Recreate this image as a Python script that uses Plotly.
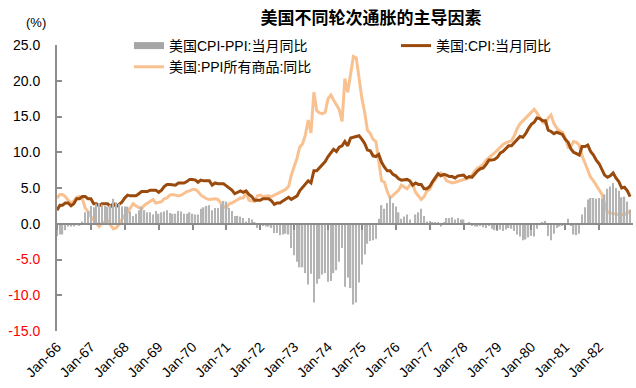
import plotly.graph_objects as go
import pandas as pd

# ---------------- data ----------------
months = pd.date_range("1966-01-01", "1982-12-01", freq="MS")

cpi_yoy = [
    1.9, 2.6, 2.6, 2.9, 2.9, 2.5, 2.8, 3.5, 3.5, 3.8, 3.8, 3.5,   # 1966
    3.5, 2.8, 2.8, 2.5, 2.8, 2.8, 2.8, 2.4, 2.8, 2.4, 2.7, 3.0,   # 1967
    3.6, 4.0, 3.9, 3.9, 3.9, 4.2, 4.5, 4.5, 4.5, 4.7, 4.7, 4.7,   # 1968
    4.4, 4.7, 5.2, 5.5, 5.5, 5.5, 5.4, 5.7, 5.7, 5.7, 5.9, 6.2,   # 1969
    6.2, 6.1, 5.8, 6.1, 6.0, 6.0, 6.0, 5.4, 5.7, 5.6, 5.6, 5.6,   # 1970
    5.3, 5.0, 4.7, 4.2, 4.4, 4.6, 4.4, 4.6, 4.1, 3.8, 3.3, 3.3,   # 1971
    3.3, 3.5, 3.5, 3.5, 3.2, 2.7, 2.9, 2.9, 3.2, 3.4, 3.7, 3.4,   # 1972
    3.6, 3.9, 4.6, 5.1, 5.5, 6.0, 5.7, 7.4, 7.4, 7.8, 8.3, 8.7,   # 1973
    9.4, 10.0, 10.4, 10.1, 10.7, 10.9, 11.5, 10.9, 12.0, 12.1, 12.2, 12.3,  # 1974
    11.8, 11.2, 10.3, 10.2, 9.5, 9.4, 9.7, 8.6, 7.9, 7.4, 7.4, 6.9,  # 1975
    6.7, 6.3, 6.1, 6.1, 6.2, 6.0, 5.4, 5.7, 5.5, 5.5, 4.9, 4.9,   # 1976
    5.2, 5.9, 6.4, 7.0, 6.7, 6.9, 6.8, 6.6, 6.6, 6.4, 6.7, 6.7,   # 1977
    6.8, 6.4, 6.6, 6.5, 7.0, 7.4, 7.7, 7.8, 8.3, 8.9, 8.9, 9.0,   # 1978
    9.3, 9.9, 10.1, 10.5, 10.9, 10.9, 11.3, 11.8, 12.2, 12.1, 12.6, 13.3,  # 1979
    13.9, 14.2, 14.8, 14.7, 14.4, 14.4, 13.1, 12.9, 12.6, 12.8, 12.6, 12.5,  # 1980
    11.8, 11.4, 10.5, 10.0, 9.8, 9.6, 10.8, 10.8, 11.0, 10.1, 9.6, 8.9,  # 1981
    8.4, 7.6, 6.8, 6.5, 6.7, 7.1, 6.4, 5.9, 5.0, 5.1, 4.6, 3.8,   # 1982
]

ppi_yoy = [
    3.6, 4.1, 4.1, 3.8, 3.3, 2.9, 3.2, 3.7, 3.8, 3.5, 2.2, 1.7,   # 1966
    1.0, 0.5, 0.0, -0.4, 0.1, 0.3, 0.4, -0.2, -0.7, -0.6, -0.1, 0.6,  # 1967
    1.2, 1.6, 2.2, 2.8, 2.5, 2.3, 2.1, 2.6, 2.9, 3.1, 3.4, 2.9,   # 1968
    3.0, 3.1, 3.5, 3.6, 4.0, 4.1, 4.0, 3.9, 4.0, 4.3, 4.5, 4.6,   # 1969
    4.8, 4.8, 4.5, 4.0, 3.7, 3.5, 3.4, 3.5, 3.5, 3.4, 2.9, 2.4,   # 1970
    2.2, 2.8, 2.9, 3.1, 3.3, 3.6, 3.6, 4.3, 3.3, 3.2, 3.1, 3.9,   # 1971
    4.0, 3.8, 3.9, 3.9, 3.8, 4.0, 4.2, 4.5, 4.7, 4.8, 5.2, 6.8,   # 1972
    8.0, 9.2, 10.7, 11.2, 12.4, 14.5, 12.7, 18.4, 15.8, 15.5, 15.4, 15.6,  # 1973
    17.5, 18.0, 17.3, 16.6, 16.0, 14.3, 20.3, 18.4, 21.0, 23.4, 23.2, 20.5,  # 1974
    17.5, 15.5, 13.1, 12.6, 11.8, 11.5, 9.0, 6.0, 5.8, 4.5, 3.6, 4.0,  # 1975
    4.3, 4.7, 5.4, 5.1, 4.9, 5.4, 5.5, 4.4, 3.9, 3.4, 3.8, 4.6,   # 1976
    4.8, 5.7, 6.2, 6.8, 7.1, 6.7, 6.0, 5.8, 5.7, 5.8, 5.9, 6.1,   # 1977
    6.2, 6.3, 6.4, 6.8, 7.4, 7.8, 8.0, 8.3, 8.9, 9.2, 9.6, 9.9,   # 1978
    10.3, 10.7, 11.1, 11.3, 11.5, 11.6, 12.3, 13.3, 14.0, 14.4, 14.8, 15.2,  # 1979
    15.6, 16.0, 15.5, 14.9, 14.2, 14.0, 14.8, 15.2, 14.0, 13.4, 13.0, 12.8,  # 1980
    12.0, 10.7, 10.8, 11.5, 11.4, 11.0, 9.5, 8.5, 7.6, 6.5, 6.0, 5.4,  # 1981
    4.8, 4.1, 2.7, 1.6, 1.5, 1.4, 1.4, 1.3, 1.3, 1.3, 1.5, 1.8,   # 1982
]

cpi_ppi_spread = [
    -1.7, -1.5, -1.5, -0.9, -0.4, -0.4, -0.4, -0.2, -0.3, 0.3, 1.6, 1.8,  # 1966
    2.5, 2.3, 2.8, 2.9, 2.7, 2.5, 2.4, 2.6, 3.5, 3.0, 2.8, 2.4,   # 1967
    2.4, 2.4, 1.7, 1.1, 1.4, 1.9, 2.4, 1.9, 1.6, 1.6, 1.3, 1.8,   # 1968
    1.4, 1.6, 1.7, 1.9, 1.5, 1.4, 1.4, 1.8, 1.7, 1.4, 1.4, 1.6,   # 1969
    1.4, 1.3, 1.3, 2.1, 2.3, 2.5, 2.6, 1.9, 2.2, 2.2, 2.7, 3.2,   # 1970
    3.1, 2.2, 1.8, 1.1, 1.1, 1.0, 0.8, 0.3, 0.8, 0.6, 0.2, -0.6,  # 1971
    -0.7, -0.3, -0.4, -0.4, -0.6, -1.3, -1.3, -1.6, -1.5, -1.4, -1.5, -3.4,  # 1972
    -4.4, -5.3, -6.1, -6.1, -6.9, -8.5, -7.0, -11.0, -8.4, -7.7, -7.1, -6.9,  # 1973
    -8.1, -8.0, -6.9, -6.5, -5.3, -3.4, -8.8, -7.5, -9.0, -11.3, -11.0, -8.2,  # 1974
    -5.7, -4.3, -2.8, -2.4, -2.3, -2.1, 0.7, 2.6, 2.1, 2.9, 3.8, 2.9,  # 1975
    2.4, 1.6, 0.7, 1.0, 1.3, 0.6, -0.1, 1.3, 1.6, 2.1, 1.1, 0.3,  # 1976
    0.4, 0.2, 0.2, 0.2, -0.4, 0.2, 0.8, 0.8, 0.9, 0.6, 0.8, 0.6,  # 1977
    0.6, 0.1, 0.2, -0.3, -0.4, -0.4, -0.3, -0.5, -0.6, -0.3, -0.7, -0.9,  # 1978
    -1.0, -0.8, -1.0, -0.8, -0.6, -0.7, -1.0, -1.5, -1.8, -2.3, -2.2, -1.9,  # 1979
    -1.7, -1.8, -0.7, -0.2, 0.2, 0.4, -1.7, -2.3, -1.4, -0.6, -0.4, -0.3,  # 1980
    -0.2, 0.7, -0.3, -1.5, -1.6, -1.4, 1.3, 2.3, 3.4, 3.6, 3.6, 3.5,  # 1981
    3.6, 3.5, 4.1, 4.9, 5.2, 5.7, 5.0, 4.6, 3.7, 3.8, 3.1, 2.0,   # 1982
]

y_tick_values = [-15.0, -10.0, -5.0, 0.0, 5.0, 10.0, 15.0, 20.0, 25.0]
x_tick_dates = pd.date_range("1966-01-01", "1982-01-01", freq="YS")

name_spread = "美国CPI-PPI:当月同比"
name_cpi = "美国:CPI:当月同比"
name_ppi = "美国:PPI所有商品:同比"
title_text = "美国不同轮次通胀的主导因素"

# ---------------- styles ----------------
FONT = "Arial, 'Liberation Sans', 'Noto Sans CJK SC', sans-serif"
AXIS_GRAY = "#8C8C8C"
BAR_GRAY = "#B4B4B4"
CPI_COLOR = "#9A4A0C"
PPI_COLOR = "#F9C190"

y_tick_text = [
    (f"<span style='color:#FF0000'>{v:.1f}</span>" if v < 0 else f"{v:.1f}")
    for v in y_tick_values
]

fig = go.Figure()

fig.add_trace(go.Bar(
    x=months, y=cpi_ppi_spread, xaxis="x2", yaxis="y",
    marker=dict(color=BAR_GRAY, line=dict(width=0)),
    name=name_spread, showlegend=False,
))
# legend key for the bars (wide grey block like the reference)
fig.add_trace(go.Scatter(
    x=[None], y=[None], mode="lines",
    line=dict(color="#A6A6A6", width=7),
    name=name_spread, legend="legend", legendrank=1,
))
fig.add_trace(go.Scatter(
    x=months, y=ppi_yoy, mode="lines",
    line=dict(color=PPI_COLOR, width=3),
    name=name_ppi, legend="legend", legendrank=2,
))
fig.add_trace(go.Scatter(
    x=months, y=cpi_yoy, mode="lines",
    line=dict(color=CPI_COLOR, width=3),
    name=name_cpi, legend="legend2",
))

x_range = ["1966-01-01", "1983-01-01"]
y_min, y_max = y_tick_values[0], y_tick_values[-1]

legend_common = dict(
    orientation="v",
    y=1 + 15 / 286, yanchor="top",
    font=dict(family=FONT, size=14, color="#000000"),
    bgcolor="rgba(0,0,0,0)",
    itemwidth=30,
    tracegroupgap=0,
    traceorder="normal",
)

fig.update_layout(
    width=636, height=388,
    margin=dict(l=57, r=3, t=45, b=57),
    paper_bgcolor="white", plot_bgcolor="white",
    font=dict(family=FONT, size=14, color="#000000"),
    bargap=0.45,
    title=dict(
        text=f"<b>{title_text}</b>",
        x=371 / 636, xanchor="center", xref="container",
        y=1 - 18 / 388, yanchor="middle", yref="container",
        font=dict(family="'Noto Sans CJK SC', sans-serif", size=17, color="#000000"),
    ),
    legend=dict(x=(129 - 57) / 576, xanchor="left", **legend_common),
    legend2=dict(x=(396 - 57) / 576, xanchor="left", **legend_common),
    xaxis=dict(
        type="date", range=x_range,
        tickvals=x_tick_dates, tickformat="%b-%y",
        tickangle=-45, showline=False, ticks="",
        showgrid=False, zeroline=False,
        tickfont=dict(family=FONT, size=14, color="#000000"),
        ticklabelstandoff=4,
    ),
    xaxis2=dict(
        type="date", range=x_range, overlaying="x",
        anchor="free", position=(0 - y_min) / (y_max - y_min),
        showline=True, linecolor=AXIS_GRAY, linewidth=2,
        ticks="outside", ticklen=5, tickwidth=2, tickcolor=AXIS_GRAY,
        tickvals=x_tick_dates, showticklabels=False,
        showgrid=False, zeroline=False,
    ),
    yaxis=dict(
        range=[y_min, y_max],
        tickvals=y_tick_values, ticktext=y_tick_text,
        showline=True, linecolor=AXIS_GRAY, linewidth=2,
        ticks="inside", ticklen=5, tickwidth=2, tickcolor=AXIS_GRAY,
        showgrid=False, zeroline=False,
        tickfont=dict(family=FONT, size=14, color="#000000"),
        ticklabelstandoff=12,
    ),
    annotations=[dict(
        text="(%)", xref="paper", yref="paper",
        x=-21 / 576, y=1 + 23 / 286, xanchor="center", yanchor="middle",
        showarrow=False, font=dict(family=FONT, size=13, color="#000000"),
    )],
)

fig.write_html("out.html")
